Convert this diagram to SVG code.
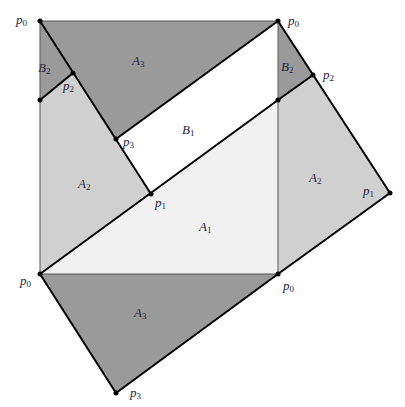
<svg xmlns="http://www.w3.org/2000/svg" width="405" height="407" viewBox="0 0 405 407">
<style>
.dark{fill:#9a9a9a}
.mid{fill:#d0d0d0}
.light{fill:#f1f1f1}
.white{fill:#ffffff}
.thin{stroke:#555;stroke-width:1;fill:none}
.thick{stroke:#000;stroke-width:2;fill:none;stroke-linecap:round}
.dot{fill:#000}
text{font-family:"Liberation Serif","DejaVu Serif",serif;font-style:italic;font-size:13px;fill:#1e1e3c}
.s{font-size:9px;font-style:normal}
</style>
<rect width="405" height="407" fill="#fff"/>
<g id="A3-top"><polygon class="dark" points="40,21 278,21 116,139"/><text x="132" y="65">A<tspan class="s" dy="2">3</tspan></text></g>
<g id="B2-left"><polygon class="dark" points="40,21 73,73 40,100"/><text x="38" y="72">B<tspan class="s" dy="2">2</tspan></text></g>
<g id="A2-left"><polygon class="mid" points="40,100 73,73 151,194 40,274"/><text x="78" y="188">A<tspan class="s" dy="2">2</tspan></text></g>
<g id="B1"><polygon class="white" points="116,139 278,21 278,100 151,194"/><text x="182" y="134">B<tspan class="s" dy="2">1</tspan></text></g>
<g id="B2-right"><polygon class="dark" points="278,21 313,75 278,100"/><text x="281" y="71">B<tspan class="s" dy="2">2</tspan></text></g>
<g id="A2-right"><polygon class="mid" points="278,100 313,75 390,193 278,274"/><text x="309" y="182">A<tspan class="s" dy="2">2</tspan></text></g>
<g id="A1"><polygon class="light" points="40,274 278,274 278,100"/><text x="199" y="231">A<tspan class="s" dy="2">1</tspan></text></g>
<g id="A3-bottom"><polygon class="dark" points="40,274 278,274 116,393"/><text x="134" y="317">A<tspan class="s" dy="2">3</tspan></text></g>
<g id="connectors">
<line class="thin" x1="40" y1="21" x2="278" y2="21"/>
<line class="thin" x1="40" y1="21" x2="40" y2="274"/>
<line class="thin" x1="278" y1="21" x2="278" y2="274"/>
<line class="thin" x1="40" y1="274" x2="278" y2="274"/>
<line class="thick" x1="40" y1="21" x2="151" y2="194"/>
<line class="thick" x1="40" y1="100" x2="73" y2="73"/>
<line class="thick" x1="116" y1="139" x2="278" y2="21"/>
<line class="thick" x1="40" y1="274" x2="278" y2="100"/>
<line class="thick" x1="278" y1="100" x2="313" y2="75"/>
<line class="thick" x1="278" y1="21" x2="390" y2="193"/>
<line class="thick" x1="390" y1="193" x2="278" y2="274"/>
<line class="thick" x1="40" y1="274" x2="116" y2="393"/>
<line class="thick" x1="116" y1="393" x2="278" y2="274"/>
</g>
<g id="points">
<circle class="dot" cx="40" cy="21" r="2.5"/>
<circle class="dot" cx="73" cy="73" r="2.5"/>
<circle class="dot" cx="40" cy="100" r="2.5"/>
<circle class="dot" cx="278" cy="21" r="2.5"/>
<circle class="dot" cx="313" cy="75" r="2.5"/>
<circle class="dot" cx="278" cy="100" r="2.5"/>
<circle class="dot" cx="116" cy="139" r="2.5"/>
<circle class="dot" cx="151" cy="194" r="2.5"/>
<circle class="dot" cx="390" cy="193" r="2.5"/>
<circle class="dot" cx="278" cy="274" r="2.5"/>
<circle class="dot" cx="40" cy="274" r="2.5"/>
<circle class="dot" cx="116" cy="393" r="2.5"/>
</g>
<g id="labels">
<text x="16" y="24">p<tspan class="s" dy="2">0</tspan></text>
<text x="63" y="90">p<tspan class="s" dy="2">2</tspan></text>
<text x="288" y="25">p<tspan class="s" dy="2">0</tspan></text>
<text x="323" y="79">p<tspan class="s" dy="2">2</tspan></text>
<text x="123" y="146">p<tspan class="s" dy="2">3</tspan></text>
<text x="155" y="207">p<tspan class="s" dy="2">1</tspan></text>
<text x="363" y="195">p<tspan class="s" dy="2">1</tspan></text>
<text x="20" y="285">p<tspan class="s" dy="2">0</tspan></text>
<text x="283" y="290">p<tspan class="s" dy="2">0</tspan></text>
<text x="130" y="397">p<tspan class="s" dy="2">3</tspan></text>
</g>
</svg>
